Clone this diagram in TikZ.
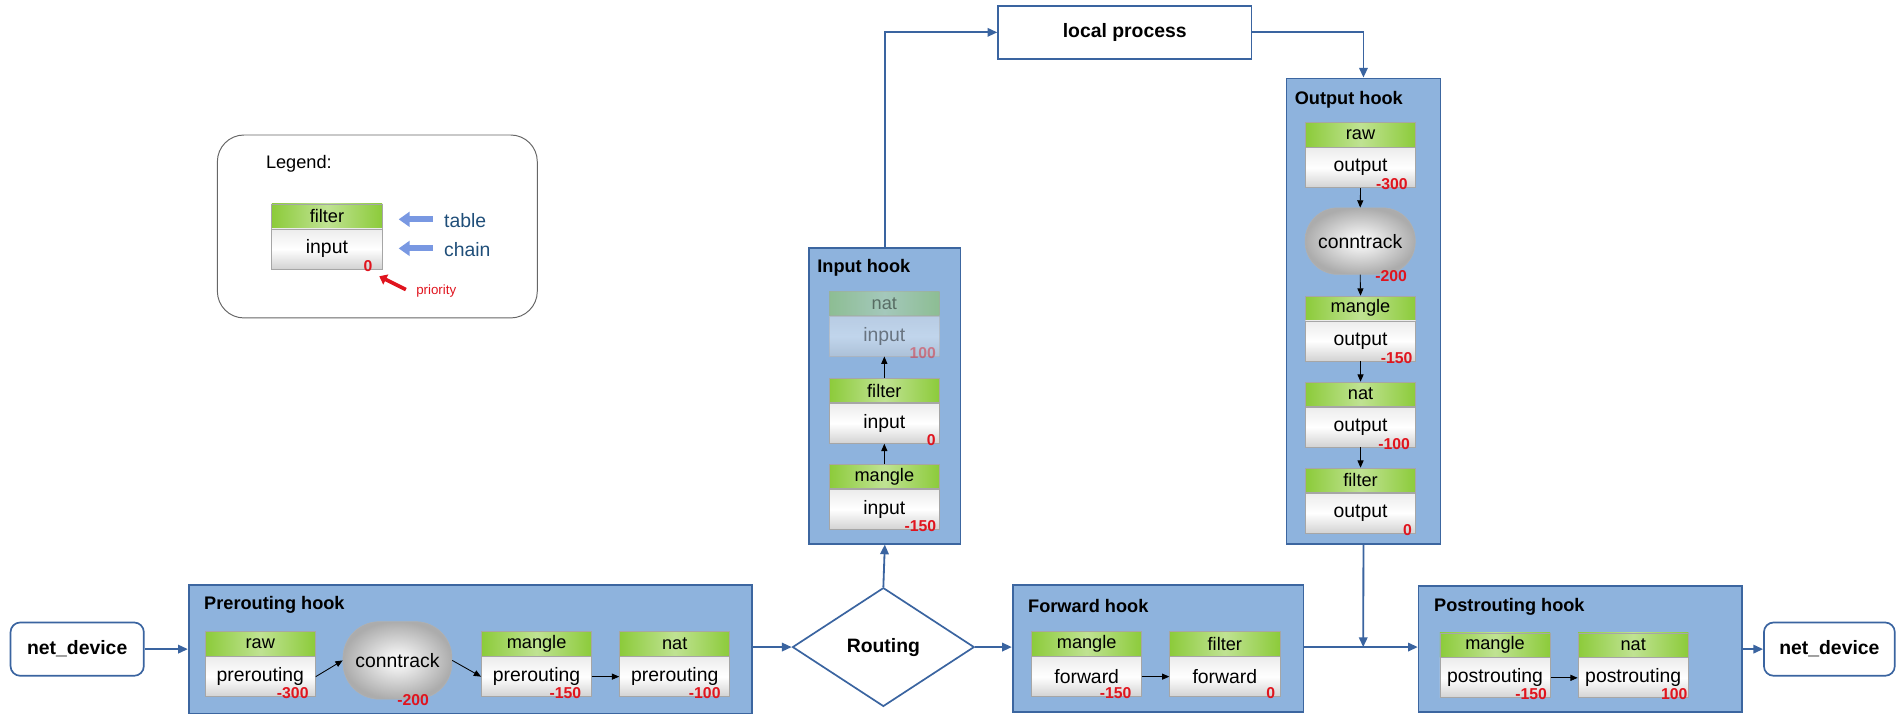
\documentclass[tikz,border=0pt]{standalone}
\usepackage{fontspec}
\setmainfont{Liberation Sans}
\usetikzlibrary{arrows.meta,shapes.geometric,calc}
\definecolor{hookfill}{HTML}{8EB3DD}
\definecolor{hookline}{HTML}{3C66A0}
\definecolor{conn}{HTML}{3A64A0}
\definecolor{grn}{HTML}{8CCB3A}
\definecolor{prioc}{HTML}{E0141E}
\definecolor{legtxt}{HTML}{1F4E79}
\tikzset{
  hook/.style={draw=hookline, line width=1.4pt, fill=hookfill, anchor=north west, inner sep=0},
  title/.style={anchor=west, font=\fontsize{15}{16}\selectfont\bfseries},
  hdr/.style={draw=gray!70, line width=0.6pt, minimum width=91pt, minimum height=20pt, inner sep=0,
    left color=grn, right color=grn, middle color=grn!55!white, font=\fontsize{15}{16}\selectfont},
  bdy/.style={draw=gray!70, line width=0.6pt, minimum width=91pt, minimum height=33pt, inner sep=0,
    top color=gray!15, bottom color=gray!35, middle color=white, font=\fontsize{16}{17}\selectfont},
  prio/.style={text=prioc, font=\fontsize{13}{14}\selectfont\bfseries, inner sep=0},
  ct/.style={draw=gray!60, rounded corners=30pt, minimum width=90pt, minimum height=64pt, inner sep=0,
    shading=radial, inner color=white, outer color=gray!65, font=\fontsize{16}{17}\selectfont},
  term/.style={draw=conn, line width=1.4pt, rounded corners=8pt, fill=white, anchor=north west,
    inner sep=0, font=\fontsize{16}{17}\selectfont\bfseries},
  flow/.style={draw=conn, line width=1.5pt, -{Triangle[length=8pt,width=7pt]}},
  iarr/.style={draw=black, line width=0.7pt, -{Triangle[length=6pt,width=5pt]}},
}
\newcommand\tb[7]{%
  \node[hdr, anchor=north west] (#1h) at (#2,#3) {#4};
  \node[bdy, anchor=north] (#1b) at (#1h.south) {#5};
  \node[prio] (#1p) at ($(#1b.south east)+(#6,-3)$) {#7};}
\begin{document}
\begin{tikzpicture}[x=1pt,y=-1pt]
\useasboundingbox (0,0) rectangle (1568,591);
% terminals
\node[term, minimum width=110pt, minimum height=44pt] (ndl) at (8,513) {net\_device};
\node[term, minimum width=108pt, minimum height=44pt] (ndr) at (1455,513) {net\_device};
\node[term, rounded corners=0pt, minimum width=209pt, minimum height=44pt] (lp) at (823,4) {local process};
\node[draw=conn, line width=1.4pt, diamond, aspect=1.5, minimum width=150pt, minimum height=98pt, inner sep=0,
  font=\fontsize{16}{17}\selectfont\bfseries, fill=white] (rt) at (729,534) {Routing};
% legend
\node[draw=gray!80!black, line width=0.8pt, rounded corners=22pt, minimum width=264pt, minimum height=151pt, anchor=north west] (leg) at (179,111) {};
\node[anchor=west, font=\fontsize{15}{16}\selectfont] (legt) at (216,135) {Legend:};
\tb{lg}{224}{168}{filter}{input}{-12}{0}
\draw[line width=5pt, draw=hookfill!85!blue, -{Triangle[length=9pt,width=12pt]}] (357,181) -- (329,181);
\draw[line width=5pt, draw=hookfill!85!blue, -{Triangle[length=9pt,width=12pt]}] (357,205) -- (329,205);
\node[anchor=west, text=legtxt, font=\fontsize{16}{17}\selectfont] (lgtab) at (363,182) {table};
\node[anchor=west, text=legtxt, font=\fontsize{16}{17}\selectfont] (lgch) at (363,206) {chain};
\draw[line width=3pt, draw=prioc, -{Triangle[length=6pt,width=9pt]}] (335,239) -- (313,228);
\node[anchor=west, text=prioc, font=\fontsize{11}{12}\selectfont] (lgpr) at (340,240) {priority};
% prerouting hook
\node[hook, minimum width=465pt, minimum height=106pt] (pre) at (155,482) {};
\node[title] (pret) at (165,499) {Prerouting hook};
\tb{raw}{169}{521}{raw}{prerouting}{-19}{-300}
\node[ct] (pct) at (328,545) {conntrack};
\node[prio] (pctp) at (341,578) {-200};
\tb{pma}{397}{521}{mangle}{prerouting}{-22}{-150}
\tb{pna}{511}{521}{nat}{prerouting}{-21}{-100}
\draw[iarr] (rawb.east) -- (pct.west);
\draw[iarr] (pct.east) -- (pmab.west);
\draw[iarr] (pmab.east) -- (pnab.west);
% forward hook
\node[hook, minimum width=240pt, minimum height=105pt] (fwd) at (835,482) {};
\node[title] (fwdt) at (845,500) {Forward hook};
\tb{fma}{851}{521}{mangle}{forward}{-22}{-150}
\tb{ffi}{965}{521}{filter}{forward}{-8}{0}
\draw[iarr] (fmab.east) -- (ffib.west);
% postrouting hook
\node[hook, minimum width=267pt, minimum height=104pt] (post) at (1170,483) {};
\node[title] (postt) at (1180,501) {Postrouting hook};
\tb{qma}{1188}{522}{mangle}{postrouting}{-16}{-150}
\tb{qna}{1302}{522}{nat}{postrouting}{-12}{100}
\draw[iarr] (qmab.east) -- (qnab.west);
% input hook
\node[hook, minimum width=125pt, minimum height=244pt] (inp) at (667,204) {};
\node[title] (inpt) at (671,221) {Input hook};
\begin{scope}[opacity=0.45]
\tb{ina}{684}{240}{nat}{input}{-14}{100}
\end{scope}
\tb{ifi}{684}{312}{filter}{input}{-7}{0}
\tb{ima}{684}{383}{mangle}{input}{-16}{-150}
\draw[iarr] (imah.north) -- (ifib.south);
\draw[iarr] (ifih.north) -- (inab.south);
% output hook
\node[hook, minimum width=127pt, minimum height=384pt] (out) at (1061,64) {};
\node[title] (outt) at (1065,82) {Output hook};
\tb{ora}{1077}{101}{raw}{output}{-20}{-300}
\node[ct, minimum width=91pt, minimum height=55pt, rounded corners=27pt] (oct) at (1122.5,199) {conntrack};
\node[prio] (octp) at (1148,228) {-200};
\tb{oma}{1077}{244}{mangle}{output}{-16}{-150}
\tb{ona}{1077}{315}{nat}{output}{-18}{-100}
\tb{ofi}{1077}{386}{filter}{output}{-7}{0}
\draw[iarr] (orab.south) -- (oct.north);
\draw[iarr] (oct.south) -- (omah.north);
\draw[iarr] (omab.south) -- (onah.north);
\draw[iarr] (onab.south) -- (ofih.north);
% flows
\coordinate (j) at (1125,534);
\draw[flow] (ndl.east) -- (pre.west |- ndl.east);
\draw[flow] (pre.east |- rt.west) -- (rt.west);
\draw[flow] (rt.east) -- (fwd.west |- rt.east);
\draw[flow] (rt.north) -- (inp.south);
\draw[flow] (inp.north) |- (lp.west);
\draw[flow] (lp.east) -| (out.north);
\draw[flow] (out.south) -- (j);
\draw[flow] (fwd.east |- j) -- (post.west |- j);
\draw[flow] (post.east |- ndr.west) -- (ndr.west);
\end{tikzpicture}
\end{document}
